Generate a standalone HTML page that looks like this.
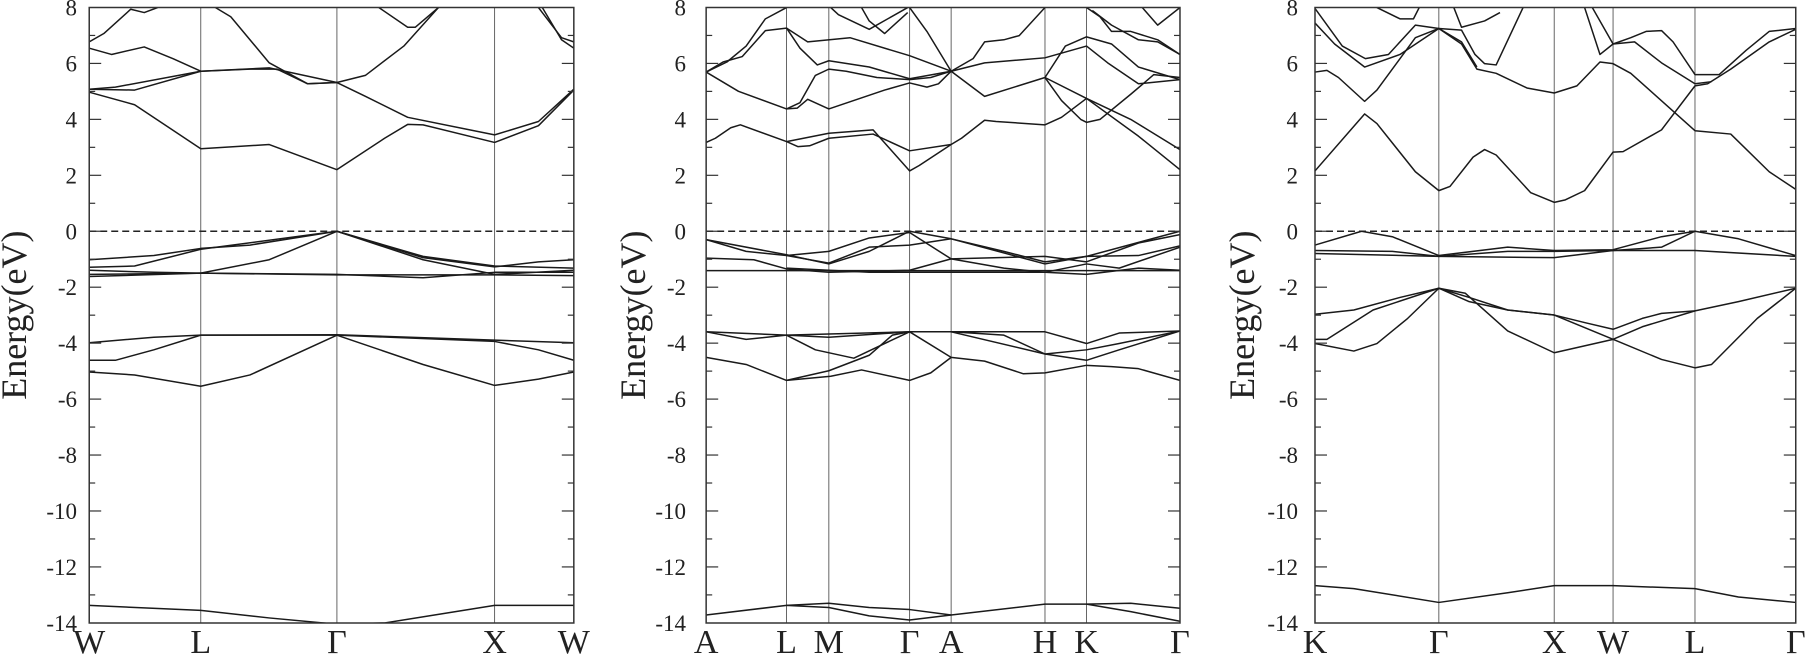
<!DOCTYPE html>
<html><head><meta charset="utf-8"><style>
html,body{margin:0;padding:0;background:#fff;}
svg{display:block}
text{font-family:"Liberation Serif",serif;fill:#222}
.b{fill:none;stroke:#1a1a1a;stroke-width:1.5;stroke-linejoin:round;vector-effect:non-scaling-stroke}
.v{stroke:#555;stroke-width:0.9;vector-effect:non-scaling-stroke}
.v line{vector-effect:non-scaling-stroke}
.ax{fill:none;stroke:#333;stroke-width:1.5;vector-effect:non-scaling-stroke}
.d{stroke:#222;stroke-width:1.5;stroke-dasharray:7 4;vector-effect:non-scaling-stroke}
</style></head><body>
<svg width="1805" height="656" viewBox="0 0 1805 656">
<defs>
<clipPath id="c1"><rect x="232" y="18" width="1260" height="1469"/></clipPath>
<clipPath id="c2"><rect x="276" y="18" width="1232" height="1469"/></clipPath>
<clipPath id="c3"><rect x="299" y="18" width="1250" height="1469"/></clipPath>
</defs>

<!-- PANEL 1 -->
<g transform="scale(0.3846,0.41894)">
<g class="v"><line x1="522" y1="18" x2="522" y2="1487"/><line x1="876" y1="18" x2="876" y2="1487"/><line x1="1286" y1="18" x2="1286" y2="1487"/></g>
<line class="d" x1="232" y1="552" x2="1492" y2="552"/>
<g clip-path="url(#c1)">
<polyline class="b" points="232,1445 522,1457 700,1475 876,1490 1000,1487 1150,1465 1286,1445 1492,1445"/>
<polyline class="b" points="232,888 350,895 522,922 650,895 876,800 1100,870 1286,920 1400,905 1492,888"/>
<polyline class="b" points="232,860 300,860 400,835 522,800 876,800 1286,815 1400,835 1492,860"/>
<polyline class="b" points="232,818 400,805 522,800 876,799 1286,812 1492,818"/>
<polyline class="b" points="232,655 522,652 876,656 1286,656 1492,658"/>
<polyline class="b" points="232,660 522,652 876,655 1100,663 1286,650 1492,650"/>
<polyline class="b" points="232,645 400,650 522,652 700,620 876,552 1100,620 1286,655 1492,645"/>
<polyline class="b" points="232,638 350,635 522,595 876,552 1100,612 1286,635 1492,640"/>
<polyline class="b" points="232,620 400,610 522,593 650,585 876,552 1100,615 1286,637 1400,625 1492,620"/>
<polyline class="b" points="232,220 350,250 522,355 700,345 876,405 1000,330 1060,297 1100,298 1286,340 1400,300 1492,215"/>
<polyline class="b" points="232,213 300,208 522,170 700,162 876,197 950,230 1060,280 1286,322 1400,290 1492,213"/>
<polyline class="b" points="232,213 350,215 522,170 650,165 720,165 800,200 876,197"/>
<polyline class="b" points="560,18 600,40 700,150 800,200 876,197 950,180 1050,110 1140,18"/>
<polyline class="b" points="232,115 290,130 375,112 450,140 522,170"/>
<polyline class="b" points="232,100 270,80 340,22 375,30 410,18"/>
<polyline class="b" points="985,18 1060,65 1080,65 1140,18"/>
<polyline class="b" points="1400,18 1460,90 1492,100"/>
<polyline class="b" points="1410,18 1460,95 1492,115"/>
</g>
<rect class="ax" x="232" y="18" width="1260" height="1469"/>
</g>

<!-- PANEL 2 -->
<g transform="translate(600,0) scale(0.3846,0.41894)">
<g class="v"><line x1="485" y1="18" x2="485" y2="1487"/><line x1="595" y1="18" x2="595" y2="1487"/><line x1="805" y1="18" x2="805" y2="1487"/><line x1="913" y1="18" x2="913" y2="1487"/><line x1="1157" y1="18" x2="1157" y2="1487"/><line x1="1265" y1="18" x2="1265" y2="1487"/></g>
<line class="d" x1="276" y1="552" x2="1508" y2="552"/>
<g clip-path="url(#c2)">
<polyline class="b" points="276,1468 485,1445 595,1440 700,1450 805,1455 913,1468 1157,1442 1265,1442 1380,1440 1508,1452"/>
<polyline class="b" points="485,1445 595,1450 700,1470 805,1480 913,1468"/>
<polyline class="b" points="1265,1442 1380,1460 1508,1483"/>
<polyline class="b" points="276,853 380,870 485,908 600,898 680,883 805,908 860,890 913,853 1000,862 1100,892 1157,890 1265,872 1330,875 1400,880 1508,908"/>
<polyline class="b" points="485,908 595,885 700,848 760,800 805,792 913,853"/>
<polyline class="b" points="485,800 560,835 660,855 740,820 805,792 913,792 1157,845 1265,860 1350,835 1508,790"/>
<polyline class="b" points="276,792 380,810 485,800 595,805 805,792 1157,792 1265,820 1350,795 1508,790"/>
<polyline class="b" points="276,792 485,800 805,792 913,792 1050,800 1157,845 1265,835 1350,820 1508,790"/>
<polyline class="b" points="276,646 1508,646"/>
<polyline class="b" points="276,572 485,608 595,630 700,600 805,552 913,570 1157,630 1265,612 1508,552"/>
<polyline class="b" points="276,572 380,600 485,610 595,600 700,568 805,555 913,618 1157,612 1265,625 1400,580 1508,560"/>
<polyline class="b" points="276,616 400,620 485,642 595,650 805,645 913,618 1050,640 1157,650 1265,655 1400,640 1508,645"/>
<polyline class="b" points="485,610 595,628 700,590 805,585 913,570 1050,600 1157,625 1265,612 1400,610 1508,587"/>
<polyline class="b" points="485,640 595,645 700,650 805,650 1157,650 1265,630 1350,640 1508,590"/>
<polyline class="b" points="276,340 300,330 340,305 365,298 485,338 595,318 710,310 805,408 830,395 913,345 940,330 1000,287 1030,290 1157,298 1200,280 1265,235 1400,325 1508,405"/>
<polyline class="b" points="485,338 515,350 545,348 595,330 710,320 805,360 913,345"/>
<polyline class="b" points="276,172 360,218 485,260 513,258 540,237 595,260 740,215 805,198 850,208 880,200 913,170 1000,230 1157,185 1265,235 1380,285 1508,357"/>
<polyline class="b" points="485,260 520,245 560,180 595,165 640,170 720,185 805,190 860,185 913,170 1000,150 1157,138 1265,110 1320,150 1400,200 1508,190"/>
<polyline class="b" points="276,172 330,148 380,110 430,45 485,18"/>
<polyline class="b" points="276,172 320,148 370,135 430,73 485,67 540,100 650,90 805,133 913,170"/>
<polyline class="b" points="485,67 520,115 565,155 595,145 700,160 805,188 913,170"/>
<polyline class="b" points="913,170 970,140 1000,100 1050,95 1090,85 1157,18"/>
<polyline class="b" points="805,18 850,75 913,170"/>
<polyline class="b" points="1157,185 1210,110 1265,88 1330,105 1400,160 1508,190"/>
<polyline class="b" points="1265,18 1300,40 1330,75 1380,75 1450,95 1508,130"/>
<polyline class="b" points="1280,25 1330,60 1400,95 1450,100 1508,130"/>
<polyline class="b" points="1157,185 1200,240 1250,285 1265,292 1300,285 1380,225 1440,178 1508,185"/>
<polyline class="b" points="600,18 620,35 700,70 800,18"/>
<polyline class="b" points="680,18 700,50 740,80 800,30"/>
<polyline class="b" points="1410,18 1450,60 1508,18"/>
</g>
<rect class="ax" x="276" y="18" width="1232" height="1469"/>
</g>

<!-- PANEL 3 -->
<g transform="translate(1200,0) scale(0.3846,0.41894)">
<g class="v"><line x1="621" y1="18" x2="621" y2="1487"/><line x1="921" y1="18" x2="921" y2="1487"/><line x1="1074" y1="18" x2="1074" y2="1487"/><line x1="1287" y1="18" x2="1287" y2="1487"/></g>
<line class="d" x1="299" y1="552" x2="1549" y2="552"/>
<g clip-path="url(#c3)">
<polyline class="b" points="299,1398 400,1405 621,1438 800,1415 921,1398 1074,1398 1287,1405 1400,1425 1549,1438"/>
<polyline class="b" points="299,750 400,740 520,710 621,688 700,710 800,740 921,752 1000,770 1074,786 1150,760 1200,748 1287,742 1400,720 1549,688"/>
<polyline class="b" points="299,810 330,810 450,740 621,688 690,700 800,790 921,842 1074,810 1150,780 1287,742"/>
<polyline class="b" points="299,820 400,838 460,820 540,760 621,688 700,720 800,740 921,752 1074,810 1200,858 1287,878 1330,870 1449,760 1549,688"/>
<polyline class="b" points="299,585 420,552 500,565 621,610 800,590 921,598 1074,596 1200,565 1287,552 1400,570 1549,610"/>
<polyline class="b" points="299,598 500,600 621,612 800,600 921,600 1074,598 1200,590 1287,552"/>
<polyline class="b" points="299,605 621,612 921,615 1074,598 1287,598 1549,612"/>
<polyline class="b" points="299,408 428,272 460,295 560,410 621,455 650,445 710,375 740,357 770,370 860,460 921,483 950,477 1000,455 1074,363 1100,362 1200,310 1287,205 1320,200 1380,165 1480,100 1549,70"/>
<polyline class="b" points="299,172 330,168 360,185 428,242 460,215 560,90 621,68 680,105 720,165 770,175 850,210 921,222 980,205 1040,148 1074,152 1120,175 1287,312 1380,320 1480,410 1549,452"/>
<polyline class="b" points="299,55 350,105 428,160 520,130 621,68 680,72 715,130 740,152 770,155 840,18"/>
<polyline class="b" points="299,20 370,110 430,140 490,130 560,60 621,68 680,100 720,160"/>
<polyline class="b" points="1000,18 1040,130 1074,105 1120,90 1160,75 1200,73 1230,100 1287,178 1350,178 1420,120 1480,75 1549,68"/>
<polyline class="b" points="1020,18 1074,105 1130,100 1200,150 1287,200 1330,195"/>
<polyline class="b" points="460,18 520,45 555,45 570,18"/>
<polyline class="b" points="660,18 680,65 740,50 780,30"/>
</g>
<rect class="ax" x="299" y="18" width="1250" height="1469"/>
</g>

<g id="ticks" stroke="#333" stroke-width="1.2"></g>
<g id="labels"></g>
<script>
(function(){
var NS="http://www.w3.org/2000/svg";
var panels=[{l:89.2,r:573.8,lab:77,ax:12,pts:[[89.2,"W"],[200.8,"L"],[336.9,"Γ"],[494.6,"X"],[573.8,"W"]]},
{l:706.2,r:1180,lab:686,ax:631,pts:[[706.2,"A"],[786.5,"L"],[828.8,"M"],[909.6,"Γ"],[951.2,"A"],[1045,"H"],[1086.5,"K"],[1180,"Γ"]]},
{l:1315,r:1795.8,lab:1298,ax:1240,pts:[[1315,"K"],[1438.8,"Γ"],[1554.2,"X"],[1613,"W"],[1695,"L"],[1795.8,"Γ"]]}];
var tg=document.getElementById("ticks"),lg=document.getElementById("labels");
function y(E){return (552-E*66.77)*0.41894;}
function ln(a,b,c,d){var e=document.createElementNS(NS,"line");e.setAttribute("x1",a);e.setAttribute("y1",b);e.setAttribute("x2",c);e.setAttribute("y2",d);tg.appendChild(e);}
function tx(x,yy,s,sz,anc,rot){var e=document.createElementNS(NS,"text");e.setAttribute("x",x);e.setAttribute("y",yy);e.setAttribute("font-size",sz);e.setAttribute("text-anchor",anc);if(rot)e.setAttribute("transform",rot);e.textContent=s;lg.appendChild(e);}
panels.forEach(function(p){
 for(var E=-14;E<=8;E++){var yy=y(E),L=(E%2==0)?12:6;
  if(E>-14&&E<8){ln(p.l,yy,p.l+L,yy);ln(p.r,yy,p.r-L,yy);}
  if(E%2==0)tx(p.lab,yy+8,String(E),23,"end");}
 var cy=(y(8)+y(-14))/2;
 tx(p.ax+14,cy,"Energy(eV)",36,"middle","rotate(-90 "+(p.ax+14)+" "+cy+")");
 p.pts.forEach(function(q){tx(q[0],653,q[1],34,"middle");});
});
})();
</script>
</svg>
</body></html>
